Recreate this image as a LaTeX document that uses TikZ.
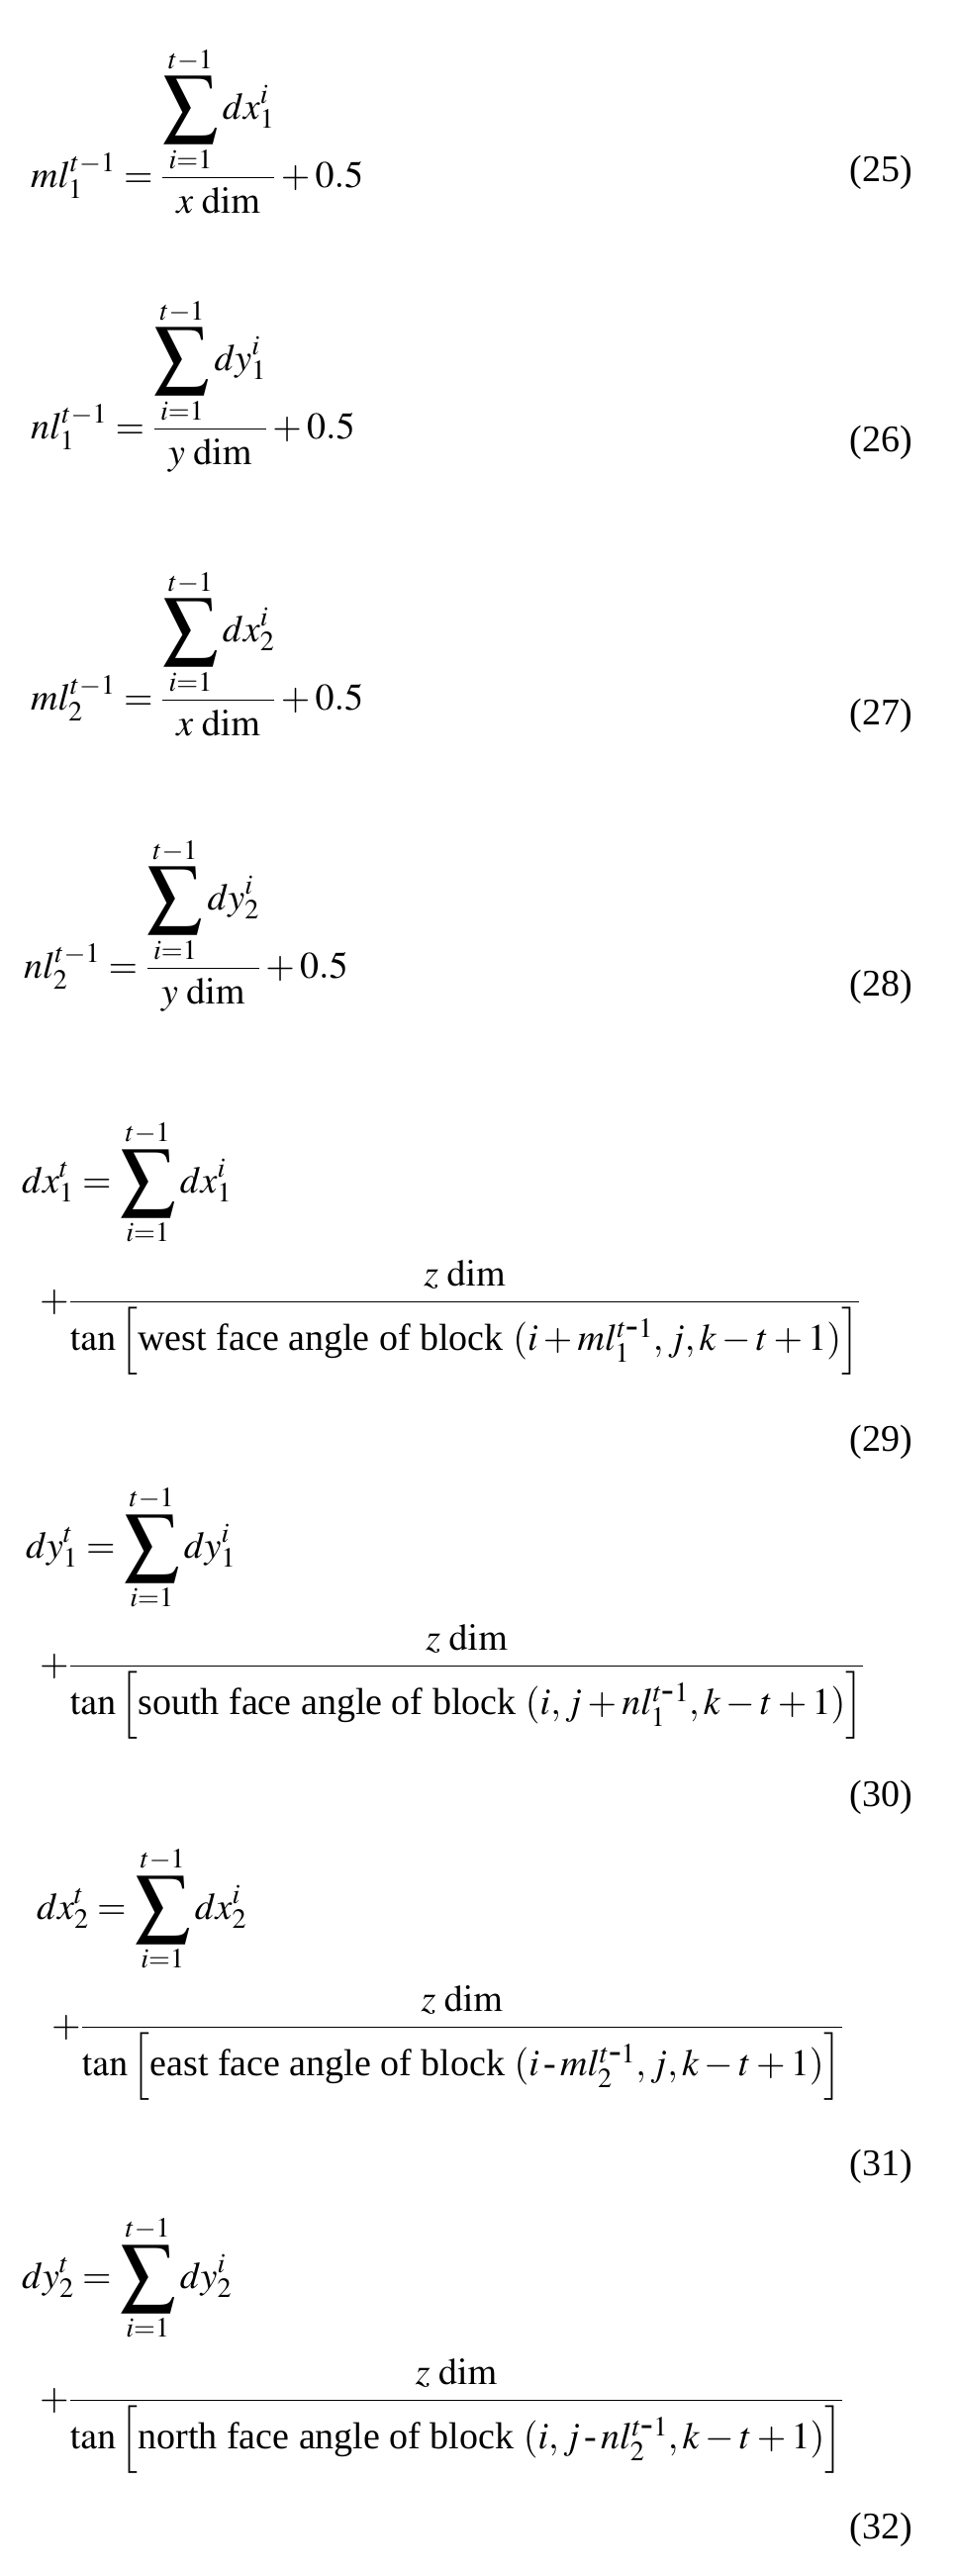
\documentclass[tikz,border=0pt]{standalone}
\usepackage{amsmath}
\usepackage{mathptmx}
\usepackage{fontspec}
\setmainfont{Liberation Serif}
\newcommand{\hy}{\mbox{-}}
\newcommand{\bigsum}{\mathop{\vcenter{\hbox{\scalebox{1.45}{$\displaystyle\sum$}}}}\limits}
\newcommand{\dm}{\;\mathrm{dim}}
\begin{document}
\begin{tikzpicture}[x=1pt,y=-1pt,
  eq/.style={anchor=base west,inner sep=0pt,font=\fontsize{38}{44}\selectfont},
  num/.style={anchor=base east,inner sep=0pt,font=\fontsize{38}{44}\selectfont}]
\useasboundingbox[fill=white] (0,0) rectangle (967,2603);
\node[eq] (e25) at (31,189) {$\displaystyle ml_1^{t-1}=\frac{\displaystyle\bigsum_{i=1}^{t-1}dx_1^i}{x\dm}+0.5$};
\node[num] (n25) at (922,183) {(25)};
\node[eq] (e26) at (31,443) {$\displaystyle nl_1^{t-1}=\frac{\displaystyle\bigsum_{i=1}^{t-1}dy_1^i}{y\dm}+0.5$};
\node[num] (n26) at (922,456) {(26)};
\node[eq] (e27) at (31,717) {$\displaystyle ml_2^{t-1}=\frac{\displaystyle\bigsum_{i=1}^{t-1}dx_2^i}{x\dm}+0.5$};
\node[num] (n27) at (922,732) {(27)};
\node[eq] (e28) at (24,988) {$\displaystyle nl_2^{t-1}=\frac{\displaystyle\bigsum_{i=1}^{t-1}dy_2^i}{y\dm}+0.5$};
\node[num] (n28) at (922,1006) {(28)};
% (29)
\node[eq] (e29a) at (22,1205) {$\displaystyle dx_1^t=\bigsum_{i=1}^{t-1}dx_1^i$};
\node[eq] (e29b) at (40,1325) {$\displaystyle +\frac{z\dm}{\tan\left[\vphantom{\Big|}\text{west face angle of block }(i+ml_1^{t\hy1},j,k-t+1)\right]}$};
\node[num] (n29) at (922,1466) {(29)};
% (30)
\node[eq] (e30a) at (26,1574) {$\displaystyle dy_1^t=\bigsum_{i=1}^{t-1}dy_1^i$};
\node[eq] (e30b) at (40,1693) {$\displaystyle +\frac{z\dm}{\tan\left[\vphantom{\Big|}\text{south face angle of block }(i,j+nl_1^{t\hy1},k-t+1)\right]}$};
\node[num] (n30) at (922,1825) {(30)};
% (31)
\node[eq] (e31a) at (37,1939) {$\displaystyle dx_2^t=\bigsum_{i=1}^{t-1}dx_2^i$};
\node[eq] (e31b) at (52,2058) {$\displaystyle +\frac{z\dm}{\tan\left[\vphantom{\Big|}\text{east face angle of block }(i\,\hy\,ml_2^{t\hy1},j,k-t+1)\right]}$};
\node[num] (n31) at (922,2198) {(31)};
% (32)
\node[eq] (e32a) at (22,2312) {$\displaystyle dy_2^t=\bigsum_{i=1}^{t-1}dy_2^i$};
\node[eq] (e32b) at (40,2435) {$\displaystyle +\frac{z\dm}{\tan\left[\vphantom{\Big|}\text{north face angle of block }(i,j\,\hy\,nl_2^{t\hy1},k-t+1)\right]}$};
\node[num] (n32) at (922,2565) {(32)};
\end{tikzpicture}
\end{document}
